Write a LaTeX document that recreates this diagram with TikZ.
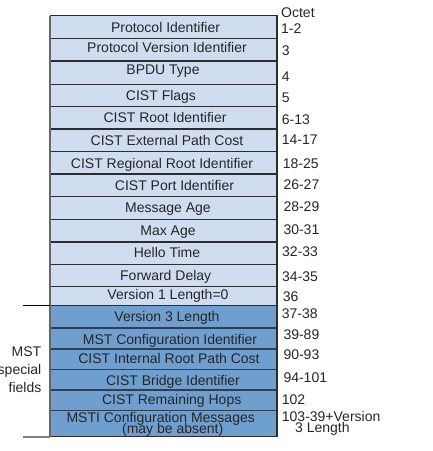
\documentclass[tikz,border=0pt]{standalone}
\usepackage{fontspec}
\setmainfont{Liberation Sans}
\definecolor{lightfield}{RGB}{208,221,241}
\definecolor{darkfield}{RGB}{111,159,207}
\definecolor{rowline}{RGB}{45,45,45}
\definecolor{darkline}{RGB}{48,62,82}
\begin{document}
\begin{tikzpicture}[x=1pt,y=-1pt,
  field/.style={font=\fontsize{14}{14}\selectfont,text=black!85,anchor=base,inner sep=0pt},
  octet/.style={font=\fontsize{14}{14}\selectfont,text=black!85,anchor=base west,inner sep=0pt}]
\useasboundingbox (0,0) rectangle (433,451);

% frame fills
\fill[lightfield] (50,15.5) rectangle (277,305.3);
\fill[darkfield] (50,305.3) rectangle (277,436.7);

% row separators
\foreach \y in {38.3,61,84.3,106.7,129,151.7,174,196.7,219.3,242,264.3,286.7}
  \draw[rowline,line width=1.2pt] (50,\y) -- (277,\y);
\draw[rowline,line width=1.2pt] (50,305.3) -- (277,305.3);
\foreach \y in {327.7,348.7,369.3,390,410.3}
  \draw[darkline,line width=1.6pt] (50,\y) -- (277,\y);
\draw[rowline,line width=1.2pt] (50,15.5) -- (277,15.5) -- (277,436.7) -- (50,436.7);
\draw[black!60,line width=2pt] (50,15.5) -- (50,436.7);

% field names
\node[field] (pid)   at (165.5,32.5)  {Protocol Identifier};
\node[field] (pvid)  at (167,52.7)    {Protocol Version Identifier};
\node[field] (btype) at (163,74)      {BPDU Type};
\node[field] (flags) at (161,100.7)   {CIST Flags};
\node[field] (root)  at (165,122.7)   {CIST Root Identifier};
\node[field] (epc)   at (167,145)     {CIST External Path Cost};
\node[field] (rroot) at (162,168.3)   {CIST Regional Root Identifier};
\node[field] (port)  at (174.5,190)   {CIST Port Identifier};
\node[field] (mage)  at (168,212.7)   {Message Age};
\node[field] (xage)  at (168,235)     {Max Age};
\node[field] (hello) at (167,257.7)   {Hello Time};
\node[field] (fwd)   at (165.7,280.7) {Forward Delay};
\node[field] (v1len) at (168,299.5)   {Version 1 Length=0};
\node[field] (v3len) at (167,321.7)   {Version 3 Length};
\node[field] (mcid)  at (170,344.3)   {MST Configuration Identifier};
\node[field] (irpc)  at (169,363.3)   {CIST Internal Root Path Cost};
\node[field] (bid)   at (173,385.7)   {CIST Bridge Identifier};
\node[field] (hops)  at (171.7,404.3) {CIST Remaining Hops};
\node[field] (msti)  at (160.7,422.7) {MSTI Configuration Messages};
\node[field] (absent) at (172.7,433.3) {(may be absent)};

% octet numbers
\node[octet] (octet) at (281,17)    {Octet};
\node[octet] (o1)  at (281,33.3)    {1-2};
\node[octet] (o2)  at (281.7,55.7)  {3};
\node[octet] (o3)  at (281.7,81)    {4};
\node[octet] (o4)  at (281.7,102.7) {5};
\node[octet] (o5)  at (281.7,124)   {6-13};
\node[octet] (o6)  at (281.7,144.3) {14-17};
\node[octet] (o7)  at (282.7,168.3) {18-25};
\node[octet] (o8)  at (283.3,189)   {26-27};
\node[octet] (o9)  at (283.3,211.7) {28-29};
\node[octet] (o10) at (283.3,234.3) {30-31};
\node[octet] (o11) at (282,256)     {32-33};
\node[octet] (o12) at (282,281)     {34-35};
\node[octet] (o13) at (282.7,301.7) {36};
\node[octet] (o14) at (281.7,318.3) {37-38};
\node[octet] (o15) at (283.3,339)   {39-89};
\node[octet] (o16) at (283.3,359.3) {90-93};
\node[octet] (o17) at (283.3,382.3) {94-101};
\node[octet] (o18) at (281.7,404.3) {102};
\node[octet] (o19) at (281.7,421)   {103-39+Version};
\node[octet] (o19b) at (295,432.7)  {3 Length};

% MST bracket
\coordinate (mtop) at (23,305.3);
\coordinate (mbot) at (23,436.7);
\draw[black,line width=1.2pt] (mtop) -- (50,305.3);
\draw[black!50,line width=1.6pt] (mbot) -- (50,436.7);
\node[font=\fontsize{14}{18}\selectfont,text=black!85,align=right,anchor=east,inner sep=0pt]
  (mst) at (41.5,370) {MST\\special\\fields};
\end{tikzpicture}
\end{document}
